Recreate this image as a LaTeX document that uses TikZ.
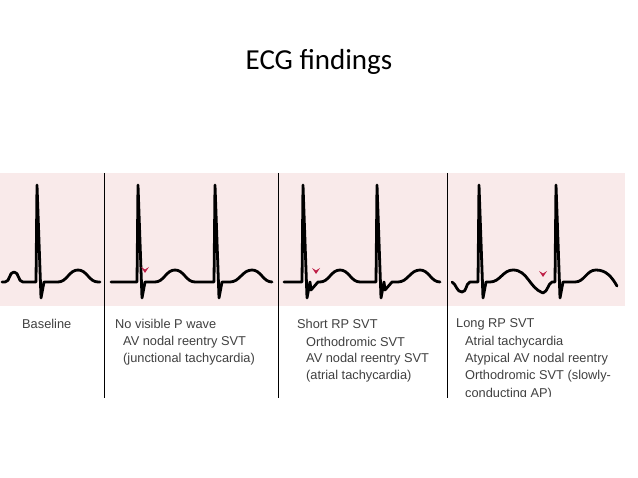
\documentclass[tikz,border=0pt]{standalone}
\usepackage{fontspec}
\setmainfont{Liberation Sans}
\newfontfamily\titlefont{Carlito}
\usetikzlibrary{positioning}
\definecolor{bandpink}{RGB}{249,234,234}
\definecolor{markred}{RGB}{190,30,70}
\tikzset{
  ecg/.style={line width=2.8pt, line join=round, line cap=round},
  divider/.style={line width=1pt},
  lbl/.style={anchor=west, inner sep=0pt, font=\fontsize{12.8}{14}\selectfont, text=black!75},
  marker/.style={fill=markred, draw=none}
}
% one QRS complex at x = #1
\newcommand{\qrs}[1]{-- (#1-1,282) -- (#1,185) -- (#1+4,298) -- (#1+7,282)}
% T wave from #1 over peak #2 to #3, peak height #4
\newcommand{\twave}[4]{-- (#1,282) to[out=0,in=180] (#2,#4) to[out=0,in=180] (#3,282)}
\newcommand{\pmark}[2]{\fill[marker] (#1-4,#2-6) -- (#1,#2) -- (#1+4,#2-6) -- (#1,#2-3.5) -- cycle;}
\begin{document}
\begin{tikzpicture}[x=1pt,y=-1pt]
\useasboundingbox (0,0) rectangle (638,478);
\fill[white] (0,0) rectangle (638,478);
\node[font=\titlefont\fontsize{29}{32}\selectfont] (title) at (319,62) {ECG findings};
\fill[bandpink] (0,173) rectangle (625,306);

% dividers
\foreach \dx in {104,278,447}
  \draw[divider] (\dx,173) -- (\dx,398);

% baseline
\draw[ecg] (2,282) -- (5,282) to[out=0,in=180] (14,272) to[out=0,in=180] (23,282) -- (33,282)
  \qrs{37} \twave{58}{78}{98}{270} -- (100,282);
% no visible P wave
\draw[ecg] (111,282) -- (134,282) \qrs{138} \twave{155}{175}{195}{270} -- (211,282)
  \qrs{215} \twave{230}{252}{272}{270};
\pmark{145}{273}
% short RP
\draw[ecg] (284,282) -- (299,282) \qrs{303} -- (311,290) -- (318,282) \twave{320}{340}{360}{270} -- (373,282)
  \qrs{377} -- (385,290) -- (392,282) \twave{398}{420}{440}{270};
\pmark{316}{274}
% long RP
\draw[ecg] (452,282) to[out=-30,in=180] (462,292) to[out=0,in=200] (470,282) -- (475,282)
  \qrs{479} -- (490,282) to[out=0,in=180] (513,270) to[out=0,in=160] (543,293) to[out=20,in=210] (552,282)
  \qrs{556} -- (575,282) to[out=0,in=180] (596,270) to[out=0,in=120] (617,286);
\pmark{543}{277}

% labels
\node[lbl] (b1) at (22,324) {Baseline};
\node[lbl] (n1) at (115,324) {No visible P wave};
\node[lbl] (n2) at (123,342) {AV nodal reentry SVT};
\node[lbl] (n3) at (123,359) {(junctional tachycardia)};
\node[lbl] (s1) at (297,324) {Short RP SVT};
\node[lbl] (s2) at (306,342) {Orthodromic SVT};
\node[lbl] (s3) at (306,359) {AV nodal reentry SVT};
\node[lbl] (s4) at (306,376) {(atrial tachycardia)};
\node[lbl] (l1) at (456,324) {Long RP SVT};
\node[lbl] (l2) at (465,342) {Atrial tachycardia};
\node[lbl] (l3) at (465,359) {Atypical AV nodal reentry};
\node[lbl] (l4) at (465,376) {Orthodromic SVT (slowly-};
\begin{scope}
  \clip (440,385) rectangle (638,397);
  \node[lbl] (l5) at (465,394) {conducting AP)};
\end{scope}
\end{tikzpicture}
\end{document}
